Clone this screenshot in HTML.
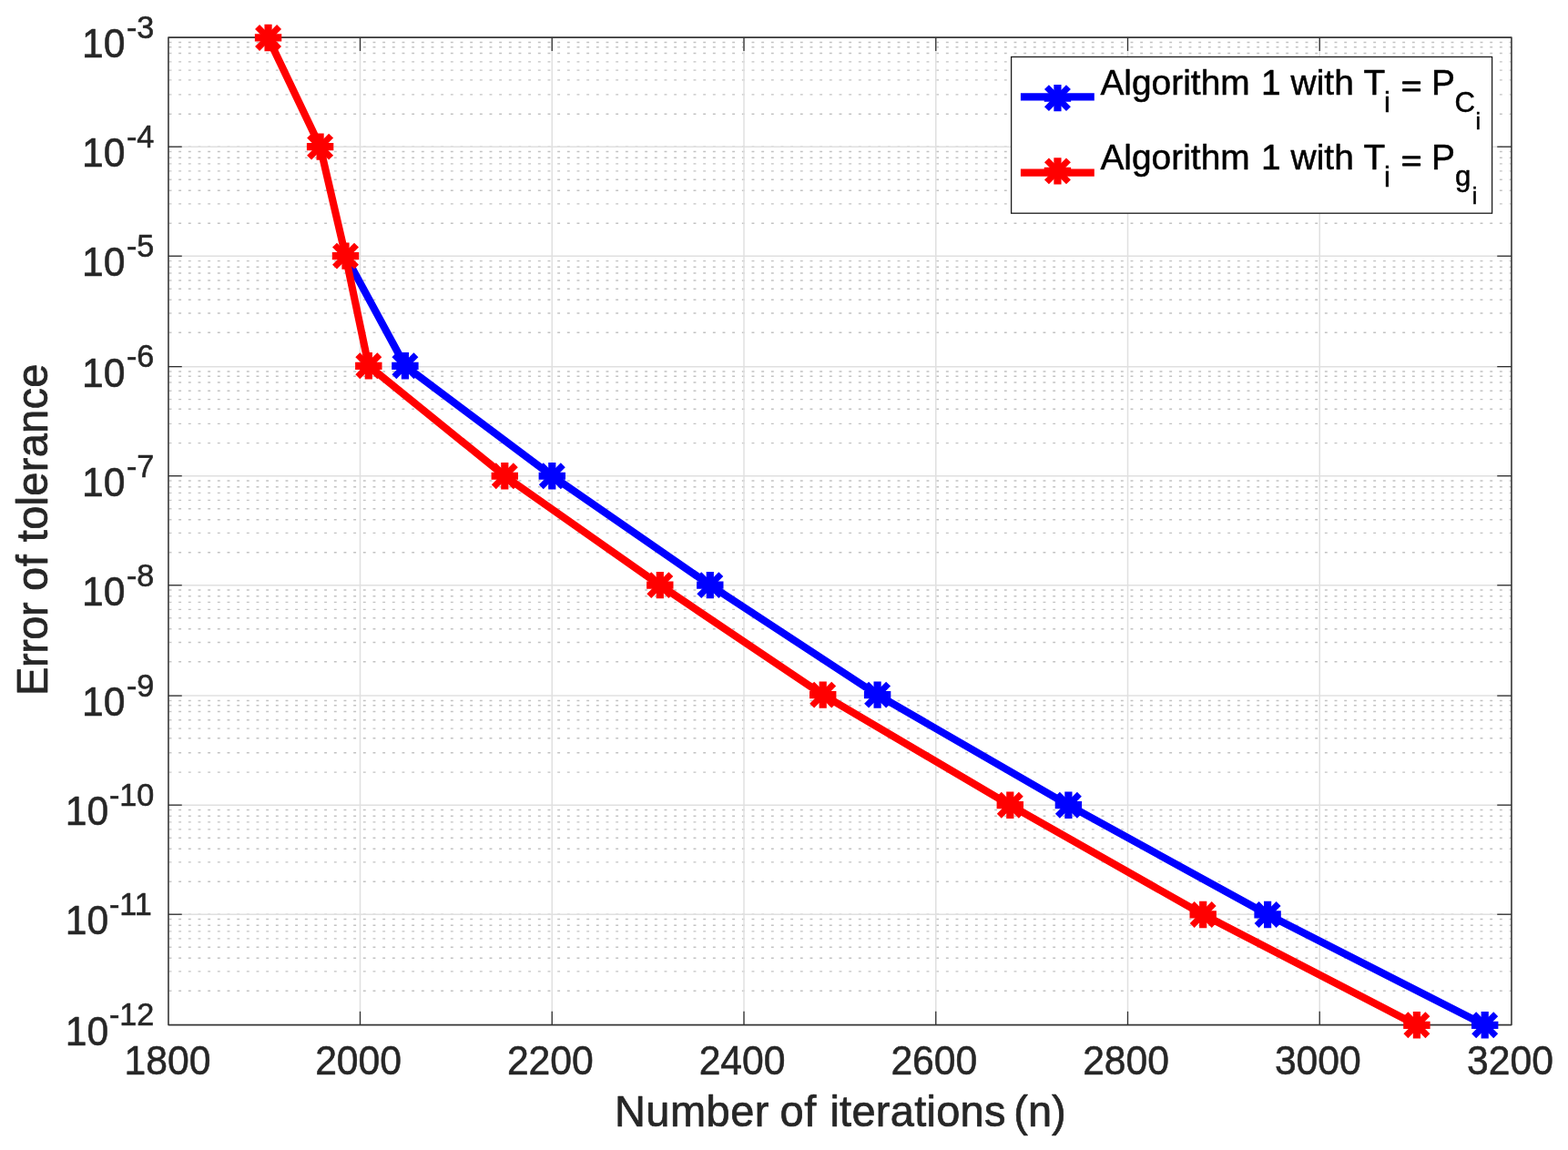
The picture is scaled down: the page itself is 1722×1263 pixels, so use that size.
<!DOCTYPE html>
<html lang="en"><head><meta charset="utf-8"><title>Error of tolerance vs Number of iterations</title>
<style>html,body{margin:0;padding:0;background:#fff;}body{width:1722px;height:1263px;overflow:hidden;}svg{display:block;}text{font-family:'Liberation Sans', Arial, Helvetica, sans-serif;}</style>
</head><body>
<svg width="1722" height="1263" viewBox="0 0 1722 1263">
<rect x="0" y="0" width="1722" height="1263" fill="#ffffff"/>
<g stroke="#c2c2c2" stroke-width="1.4" stroke-dasharray="2.9 7.767" fill="none">
<line x1="185.50" y1="125.19" x2="1659.95" y2="125.19"/>
<line x1="185.50" y1="103.84" x2="1659.95" y2="103.84"/>
<line x1="185.50" y1="87.84" x2="1659.95" y2="87.84"/>
<line x1="185.50" y1="77.17" x2="1659.95" y2="77.17"/>
<line x1="185.50" y1="67.83" x2="1659.95" y2="67.83"/>
<line x1="185.50" y1="58.49" x2="1659.95" y2="58.49"/>
<line x1="185.50" y1="51.82" x2="1659.95" y2="51.82"/>
<line x1="185.50" y1="46.49" x2="1659.95" y2="46.49"/>
<line x1="185.50" y1="245.24" x2="1659.95" y2="245.24"/>
<line x1="185.50" y1="223.89" x2="1659.95" y2="223.89"/>
<line x1="185.50" y1="209.22" x2="1659.95" y2="209.22"/>
<line x1="185.50" y1="197.22" x2="1659.95" y2="197.22"/>
<line x1="185.50" y1="187.88" x2="1659.95" y2="187.88"/>
<line x1="185.50" y1="179.88" x2="1659.95" y2="179.88"/>
<line x1="185.50" y1="173.21" x2="1659.95" y2="173.21"/>
<line x1="185.50" y1="166.54" x2="1659.95" y2="166.54"/>
<line x1="185.50" y1="365.29" x2="1659.95" y2="365.29"/>
<line x1="185.50" y1="343.95" x2="1659.95" y2="343.95"/>
<line x1="185.50" y1="329.27" x2="1659.95" y2="329.27"/>
<line x1="185.50" y1="317.27" x2="1659.95" y2="317.27"/>
<line x1="185.50" y1="307.93" x2="1659.95" y2="307.93"/>
<line x1="185.50" y1="299.93" x2="1659.95" y2="299.93"/>
<line x1="185.50" y1="293.26" x2="1659.95" y2="293.26"/>
<line x1="185.50" y1="286.59" x2="1659.95" y2="286.59"/>
<line x1="185.50" y1="486.67" x2="1659.95" y2="486.67"/>
<line x1="185.50" y1="465.33" x2="1659.95" y2="465.33"/>
<line x1="185.50" y1="449.32" x2="1659.95" y2="449.32"/>
<line x1="185.50" y1="438.65" x2="1659.95" y2="438.65"/>
<line x1="185.50" y1="429.31" x2="1659.95" y2="429.31"/>
<line x1="185.50" y1="419.98" x2="1659.95" y2="419.98"/>
<line x1="185.50" y1="413.31" x2="1659.95" y2="413.31"/>
<line x1="185.50" y1="407.97" x2="1659.95" y2="407.97"/>
<line x1="185.50" y1="606.72" x2="1659.95" y2="606.72"/>
<line x1="185.50" y1="585.38" x2="1659.95" y2="585.38"/>
<line x1="185.50" y1="570.71" x2="1659.95" y2="570.71"/>
<line x1="185.50" y1="558.70" x2="1659.95" y2="558.70"/>
<line x1="185.50" y1="549.37" x2="1659.95" y2="549.37"/>
<line x1="185.50" y1="541.36" x2="1659.95" y2="541.36"/>
<line x1="185.50" y1="534.69" x2="1659.95" y2="534.69"/>
<line x1="185.50" y1="528.02" x2="1659.95" y2="528.02"/>
<line x1="185.50" y1="726.77" x2="1659.95" y2="726.77"/>
<line x1="185.50" y1="705.43" x2="1659.95" y2="705.43"/>
<line x1="185.50" y1="690.76" x2="1659.95" y2="690.76"/>
<line x1="185.50" y1="678.75" x2="1659.95" y2="678.75"/>
<line x1="185.50" y1="669.42" x2="1659.95" y2="669.42"/>
<line x1="185.50" y1="661.41" x2="1659.95" y2="661.41"/>
<line x1="185.50" y1="654.74" x2="1659.95" y2="654.74"/>
<line x1="185.50" y1="648.07" x2="1659.95" y2="648.07"/>
<line x1="185.50" y1="848.16" x2="1659.95" y2="848.16"/>
<line x1="185.50" y1="826.82" x2="1659.95" y2="826.82"/>
<line x1="185.50" y1="810.81" x2="1659.95" y2="810.81"/>
<line x1="185.50" y1="800.14" x2="1659.95" y2="800.14"/>
<line x1="185.50" y1="790.80" x2="1659.95" y2="790.80"/>
<line x1="185.50" y1="781.46" x2="1659.95" y2="781.46"/>
<line x1="185.50" y1="774.80" x2="1659.95" y2="774.80"/>
<line x1="185.50" y1="769.46" x2="1659.95" y2="769.46"/>
<line x1="185.50" y1="968.21" x2="1659.95" y2="968.21"/>
<line x1="185.50" y1="946.87" x2="1659.95" y2="946.87"/>
<line x1="185.50" y1="932.20" x2="1659.95" y2="932.20"/>
<line x1="185.50" y1="920.19" x2="1659.95" y2="920.19"/>
<line x1="185.50" y1="910.85" x2="1659.95" y2="910.85"/>
<line x1="185.50" y1="902.85" x2="1659.95" y2="902.85"/>
<line x1="185.50" y1="896.18" x2="1659.95" y2="896.18"/>
<line x1="185.50" y1="889.51" x2="1659.95" y2="889.51"/>
<line x1="185.50" y1="1088.26" x2="1659.95" y2="1088.26"/>
<line x1="185.50" y1="1066.92" x2="1659.95" y2="1066.92"/>
<line x1="185.50" y1="1052.25" x2="1659.95" y2="1052.25"/>
<line x1="185.50" y1="1040.24" x2="1659.95" y2="1040.24"/>
<line x1="185.50" y1="1030.90" x2="1659.95" y2="1030.90"/>
<line x1="185.50" y1="1022.90" x2="1659.95" y2="1022.90"/>
<line x1="185.50" y1="1016.23" x2="1659.95" y2="1016.23"/>
<line x1="185.50" y1="1009.56" x2="1659.95" y2="1009.56"/>
<line x1="185.50" y1="161.20" x2="1659.95" y2="161.20"/>
<line x1="185.50" y1="1004.23" x2="1659.95" y2="1004.23"/>
</g>
<g stroke="#e0e0e0" stroke-width="1.5" fill="none">
<line x1="395.50" y1="41.15" x2="395.50" y2="1125.61"/>
<line x1="606.25" y1="41.15" x2="606.25" y2="1125.61"/>
<line x1="817.00" y1="41.15" x2="817.00" y2="1125.61"/>
<line x1="1027.75" y1="41.15" x2="1027.75" y2="1125.61"/>
<line x1="1238.50" y1="41.15" x2="1238.50" y2="1125.61"/>
<line x1="1449.25" y1="41.15" x2="1449.25" y2="1125.61"/>
<line x1="184.95" y1="161.20" x2="1659.95" y2="161.20"/>
<line x1="184.95" y1="281.25" x2="1659.95" y2="281.25"/>
<line x1="184.95" y1="402.64" x2="1659.95" y2="402.64"/>
<line x1="184.95" y1="522.69" x2="1659.95" y2="522.69"/>
<line x1="184.95" y1="642.74" x2="1659.95" y2="642.74"/>
<line x1="184.95" y1="764.12" x2="1659.95" y2="764.12"/>
<line x1="184.95" y1="884.17" x2="1659.95" y2="884.17"/>
<line x1="184.95" y1="1004.23" x2="1659.95" y2="1004.23"/>
</g>
<g stroke="#363636" stroke-width="1.6" fill="none" stroke-linejoin="round">
<rect x="184.95" y="41.15" width="1475.00" height="1084.46"/>
</g>
<g stroke="#303030" stroke-width="1.3" fill="none">
<line x1="395.50" y1="1125.61" x2="395.50" y2="1110.81"/>
<line x1="395.50" y1="41.15" x2="395.50" y2="55.95"/>
<line x1="606.25" y1="1125.61" x2="606.25" y2="1110.81"/>
<line x1="606.25" y1="41.15" x2="606.25" y2="55.95"/>
<line x1="817.00" y1="1125.61" x2="817.00" y2="1110.81"/>
<line x1="817.00" y1="41.15" x2="817.00" y2="55.95"/>
<line x1="1027.75" y1="1125.61" x2="1027.75" y2="1110.81"/>
<line x1="1027.75" y1="41.15" x2="1027.75" y2="55.95"/>
<line x1="1238.50" y1="1125.61" x2="1238.50" y2="1110.81"/>
<line x1="1238.50" y1="41.15" x2="1238.50" y2="55.95"/>
<line x1="1449.25" y1="1125.61" x2="1449.25" y2="1110.81"/>
<line x1="1449.25" y1="41.15" x2="1449.25" y2="55.95"/>
<line x1="184.95" y1="161.20" x2="199.75" y2="161.20"/>
<line x1="1659.95" y1="161.20" x2="1644.25" y2="161.20"/>
<line x1="184.95" y1="281.25" x2="199.75" y2="281.25"/>
<line x1="1659.95" y1="281.25" x2="1644.25" y2="281.25"/>
<line x1="184.95" y1="402.64" x2="199.75" y2="402.64"/>
<line x1="1659.95" y1="402.64" x2="1644.25" y2="402.64"/>
<line x1="184.95" y1="522.69" x2="199.75" y2="522.69"/>
<line x1="1659.95" y1="522.69" x2="1644.25" y2="522.69"/>
<line x1="184.95" y1="642.74" x2="199.75" y2="642.74"/>
<line x1="1659.95" y1="642.74" x2="1644.25" y2="642.74"/>
<line x1="184.95" y1="764.12" x2="199.75" y2="764.12"/>
<line x1="1659.95" y1="764.12" x2="1644.25" y2="764.12"/>
<line x1="184.95" y1="884.17" x2="199.75" y2="884.17"/>
<line x1="1659.95" y1="884.17" x2="1644.25" y2="884.17"/>
<line x1="184.95" y1="1004.23" x2="199.75" y2="1004.23"/>
<line x1="1659.95" y1="1004.23" x2="1644.25" y2="1004.23"/>
</g>
<g stroke="#0000ff" stroke-width="8.20" fill="none" stroke-linejoin="miter" stroke-linecap="butt">
<polyline points="379.50,281.10 444.90,401.79 606.30,522.74 779.80,642.64 963.60,763.12 1173.40,884.22 1392.10,1004.43 1630.70,1125.81"/>
<path d="M430.20 401.79H459.60M444.90 387.09V416.49M591.60 522.74H621.00M606.30 508.04V537.44M765.10 642.64H794.50M779.80 627.94V657.34M948.90 763.12H978.30M963.60 748.42V777.82M1158.70 884.22H1188.10M1173.40 869.52V898.92M1377.40 1004.43H1406.80M1392.10 989.73V1019.13M1616.00 1125.81H1645.40M1630.70 1111.11V1140.51"/>
<path stroke-width="7.00" d="M432.90 389.79L456.90 413.79M432.90 413.79L456.90 389.79M594.30 510.74L618.30 534.74M594.30 534.74L618.30 510.74M767.80 630.64L791.80 654.64M767.80 654.64L791.80 630.64M951.60 751.12L975.60 775.12M951.60 775.12L975.60 751.12M1161.40 872.22L1185.40 896.22M1161.40 896.22L1185.40 872.22M1380.10 992.43L1404.10 1016.43M1380.10 1016.43L1404.10 992.43M1618.70 1113.81L1642.70 1137.81M1618.70 1137.81L1642.70 1113.81"/>
</g>
<g stroke="#ff0000" stroke-width="8.20" fill="none" stroke-linejoin="miter" stroke-linecap="butt">
<polyline points="294.55,41.45 351.60,161.10 379.50,281.10 404.80,401.79 554.30,522.74 724.80,642.64 903.70,763.12 1109.30,884.22 1321.20,1004.43 1555.90,1125.81"/>
<path d="M279.85 41.45H309.25M294.55 26.75V56.15M336.90 161.10H366.30M351.60 146.40V175.80M364.80 281.10H394.20M379.50 266.40V295.80M390.10 401.79H419.50M404.80 387.09V416.49M539.60 522.74H569.00M554.30 508.04V537.44M710.10 642.64H739.50M724.80 627.94V657.34M889.00 763.12H918.40M903.70 748.42V777.82M1094.60 884.22H1124.00M1109.30 869.52V898.92M1306.50 1004.43H1335.90M1321.20 989.73V1019.13M1541.20 1125.81H1570.60M1555.90 1111.11V1140.51"/>
<path stroke-width="7.00" d="M282.55 29.45L306.55 53.45M282.55 53.45L306.55 29.45M339.60 149.10L363.60 173.10M339.60 173.10L363.60 149.10M367.50 269.10L391.50 293.10M367.50 293.10L391.50 269.10M392.80 389.79L416.80 413.79M392.80 413.79L416.80 389.79M542.30 510.74L566.30 534.74M542.30 534.74L566.30 510.74M712.80 630.64L736.80 654.64M712.80 654.64L736.80 630.64M891.70 751.12L915.70 775.12M891.70 775.12L915.70 751.12M1097.30 872.22L1121.30 896.22M1097.30 896.22L1121.30 872.22M1309.20 992.43L1333.20 1016.43M1309.20 1016.43L1333.20 992.43M1543.90 1113.81L1567.90 1137.81M1543.90 1137.81L1567.90 1113.81"/>
</g>
<text transform="translate(184.05 1179.90) scale(1 1.030)" font-size="42.70" text-anchor="middle" fill="#262626" stroke="#262626" stroke-width="0.55" stroke-linejoin="round">1800</text>
<text transform="translate(393.60 1179.90) scale(1 1.030)" font-size="42.70" text-anchor="middle" fill="#262626" stroke="#262626" stroke-width="0.55" stroke-linejoin="round">2000</text>
<text transform="translate(604.35 1179.90) scale(1 1.030)" font-size="42.70" text-anchor="middle" fill="#262626" stroke="#262626" stroke-width="0.55" stroke-linejoin="round">2200</text>
<text transform="translate(815.10 1179.90) scale(1 1.030)" font-size="42.70" text-anchor="middle" fill="#262626" stroke="#262626" stroke-width="0.55" stroke-linejoin="round">2400</text>
<text transform="translate(1025.85 1179.90) scale(1 1.030)" font-size="42.70" text-anchor="middle" fill="#262626" stroke="#262626" stroke-width="0.55" stroke-linejoin="round">2600</text>
<text transform="translate(1236.60 1179.90) scale(1 1.030)" font-size="42.70" text-anchor="middle" fill="#262626" stroke="#262626" stroke-width="0.55" stroke-linejoin="round">2800</text>
<text transform="translate(1447.35 1179.90) scale(1 1.030)" font-size="42.70" text-anchor="middle" fill="#262626" stroke="#262626" stroke-width="0.55" stroke-linejoin="round">3000</text>
<text transform="translate(1658.55 1179.90) scale(1 1.030)" font-size="42.70" text-anchor="middle" fill="#262626" stroke="#262626" stroke-width="0.55" stroke-linejoin="round">3200</text>
<text transform="translate(137.60 63.30) scale(1 1.030)" font-size="42.70" text-anchor="end" fill="#262626" stroke="#262626" stroke-width="0.55" stroke-linejoin="round">10</text>
<text transform="translate(138.90 42.00) scale(1 1.030)" font-size="34.20" text-anchor="start" fill="#262626" stroke="#262626" stroke-width="0.55" stroke-linejoin="round">-3</text>
<text transform="translate(137.60 183.35) scale(1 1.030)" font-size="42.70" text-anchor="end" fill="#262626" stroke="#262626" stroke-width="0.55" stroke-linejoin="round">10</text>
<text transform="translate(138.90 162.05) scale(1 1.030)" font-size="34.20" text-anchor="start" fill="#262626" stroke="#262626" stroke-width="0.55" stroke-linejoin="round">-4</text>
<text transform="translate(137.60 303.40) scale(1 1.030)" font-size="42.70" text-anchor="end" fill="#262626" stroke="#262626" stroke-width="0.55" stroke-linejoin="round">10</text>
<text transform="translate(138.90 282.10) scale(1 1.030)" font-size="34.20" text-anchor="start" fill="#262626" stroke="#262626" stroke-width="0.55" stroke-linejoin="round">-5</text>
<text transform="translate(137.60 424.79) scale(1 1.030)" font-size="42.70" text-anchor="end" fill="#262626" stroke="#262626" stroke-width="0.55" stroke-linejoin="round">10</text>
<text transform="translate(138.90 403.49) scale(1 1.030)" font-size="34.20" text-anchor="start" fill="#262626" stroke="#262626" stroke-width="0.55" stroke-linejoin="round">-6</text>
<text transform="translate(137.60 544.84) scale(1 1.030)" font-size="42.70" text-anchor="end" fill="#262626" stroke="#262626" stroke-width="0.55" stroke-linejoin="round">10</text>
<text transform="translate(138.90 523.54) scale(1 1.030)" font-size="34.20" text-anchor="start" fill="#262626" stroke="#262626" stroke-width="0.55" stroke-linejoin="round">-7</text>
<text transform="translate(137.60 664.89) scale(1 1.030)" font-size="42.70" text-anchor="end" fill="#262626" stroke="#262626" stroke-width="0.55" stroke-linejoin="round">10</text>
<text transform="translate(138.90 643.59) scale(1 1.030)" font-size="34.20" text-anchor="start" fill="#262626" stroke="#262626" stroke-width="0.55" stroke-linejoin="round">-8</text>
<text transform="translate(137.60 786.27) scale(1 1.030)" font-size="42.70" text-anchor="end" fill="#262626" stroke="#262626" stroke-width="0.55" stroke-linejoin="round">10</text>
<text transform="translate(138.90 764.97) scale(1 1.030)" font-size="34.20" text-anchor="start" fill="#262626" stroke="#262626" stroke-width="0.55" stroke-linejoin="round">-9</text>
<text transform="translate(119.30 906.32) scale(1 1.030)" font-size="42.70" text-anchor="end" fill="#262626" stroke="#262626" stroke-width="0.55" stroke-linejoin="round">10</text>
<text transform="translate(119.90 885.02) scale(1 1.030)" font-size="34.20" text-anchor="start" fill="#262626" stroke="#262626" stroke-width="0.55" stroke-linejoin="round">-10</text>
<text transform="translate(119.30 1026.38) scale(1 1.030)" font-size="42.70" text-anchor="end" fill="#262626" stroke="#262626" stroke-width="0.55" stroke-linejoin="round">10</text>
<text transform="translate(119.90 1005.08) scale(1 1.030)" font-size="34.20" text-anchor="start" fill="#262626" stroke="#262626" stroke-width="0.55" stroke-linejoin="round">-11</text>
<text transform="translate(119.30 1147.76) scale(1 1.030)" font-size="42.70" text-anchor="end" fill="#262626" stroke="#262626" stroke-width="0.55" stroke-linejoin="round">10</text>
<text transform="translate(119.90 1126.46) scale(1 1.030)" font-size="34.20" text-anchor="start" fill="#262626" stroke="#262626" stroke-width="0.55" stroke-linejoin="round">-12</text>
<text transform="translate(674.90 1236.60) scale(1 1.025)" font-size="47.00" text-anchor="start" fill="#262626" stroke="#262626" stroke-width="0.70" stroke-linejoin="round" letter-spacing="0.50">Number</text>
<text transform="translate(856.60 1236.60) scale(1 1.025)" font-size="47.00" text-anchor="start" fill="#262626" stroke="#262626" stroke-width="0.70" stroke-linejoin="round" letter-spacing="0.60">of</text>
<text transform="translate(911.40 1236.60) scale(1 1.025)" font-size="47.00" text-anchor="start" fill="#262626" stroke="#262626" stroke-width="0.70" stroke-linejoin="round" letter-spacing="0.27">iterations</text>
<text transform="translate(1113.30 1236.60) scale(1 1.025)" font-size="47.00" text-anchor="start" fill="#262626" stroke="#262626" stroke-width="0.70" stroke-linejoin="round" letter-spacing="0.00">(n)</text>
<text transform="translate(51.60 764.00) rotate(-90) scale(1 1.025)" font-size="47.00" text-anchor="start" fill="#262626" stroke="#262626" stroke-width="0.70" stroke-linejoin="round" letter-spacing="-0.42">Error</text>
<text transform="translate(51.60 649.00) rotate(-90) scale(1 1.025)" font-size="47.00" text-anchor="start" fill="#262626" stroke="#262626" stroke-width="0.70" stroke-linejoin="round" letter-spacing="0.60">of</text>
<text transform="translate(51.60 595.20) rotate(-90) scale(1 1.025)" font-size="47.00" text-anchor="start" fill="#262626" stroke="#262626" stroke-width="0.70" stroke-linejoin="round" letter-spacing="0.29">tolerance</text>
<rect x="1110.60" y="62.50" width="528.00" height="171.70" fill="#ffffff" stroke="#1c1c1c" stroke-width="1.3"/>
<g stroke="#0000ff" stroke-width="8.20" fill="none">
<line x1="1120.9" y1="106.30" x2="1201.8" y2="106.30"/>
<path d="M1146.75 107.60H1176.15M1161.45 92.90V122.30"/>
<path stroke-width="7.00" d="M1149.45 95.60L1173.45 119.60M1149.45 119.60L1173.45 95.60"/>
</g>
<text transform="translate(1208.40 104.30) scale(1 1.000)" font-size="38.90" text-anchor="start" fill="#000000" stroke="#000000" stroke-width="0.50" stroke-linejoin="round">Algorithm</text>
<text transform="translate(1385.00 104.30) scale(1 1.000)" font-size="38.90" text-anchor="start" fill="#000000" stroke="#000000" stroke-width="0.50" stroke-linejoin="round">1</text>
<text transform="translate(1417.60 104.30) scale(1 1.000)" font-size="38.90" text-anchor="start" fill="#000000" stroke="#000000" stroke-width="0.50" stroke-linejoin="round">with</text>
<text transform="translate(1497.50 104.30) scale(1 1.000)" font-size="38.90" text-anchor="start" fill="#000000" stroke="#000000" stroke-width="0.50" stroke-linejoin="round">T</text>
<text transform="translate(1520.00 122.70) scale(1 1.000)" font-size="31.12" text-anchor="start" fill="#000000" stroke="#000000" stroke-width="0.50" stroke-linejoin="round">i</text>
<text transform="translate(1538.70 105.40) scale(1 0.800)" font-size="38.90" text-anchor="start" fill="#000000" stroke="#000000" stroke-width="1.10" stroke-linejoin="round">=</text>
<text transform="translate(1572.00 104.30) scale(1 1.000)" font-size="38.90" text-anchor="start" fill="#000000" stroke="#000000" stroke-width="0.50" stroke-linejoin="round">P</text>
<text transform="translate(1597.50 122.70) scale(1 1.000)" font-size="31.12" text-anchor="start" fill="#000000" stroke="#000000" stroke-width="0.50" stroke-linejoin="round">C</text>
<text transform="translate(1620.50 142.20) scale(1 1.000)" font-size="24.90" text-anchor="start" fill="#000000" stroke="#000000" stroke-width="0.50" stroke-linejoin="round">i</text>
<g stroke="#ff0000" stroke-width="8.20" fill="none">
<line x1="1120.9" y1="189.60" x2="1201.8" y2="189.60"/>
<path d="M1146.75 187.85H1176.15M1161.45 173.15V202.55"/>
<path stroke-width="7.00" d="M1149.45 175.85L1173.45 199.85M1149.45 199.85L1173.45 175.85"/>
</g>
<text transform="translate(1208.40 185.60) scale(1 1.000)" font-size="38.90" text-anchor="start" fill="#000000" stroke="#000000" stroke-width="0.50" stroke-linejoin="round">Algorithm</text>
<text transform="translate(1385.00 185.60) scale(1 1.000)" font-size="38.90" text-anchor="start" fill="#000000" stroke="#000000" stroke-width="0.50" stroke-linejoin="round">1</text>
<text transform="translate(1417.60 185.60) scale(1 1.000)" font-size="38.90" text-anchor="start" fill="#000000" stroke="#000000" stroke-width="0.50" stroke-linejoin="round">with</text>
<text transform="translate(1497.50 185.60) scale(1 1.000)" font-size="38.90" text-anchor="start" fill="#000000" stroke="#000000" stroke-width="0.50" stroke-linejoin="round">T</text>
<text transform="translate(1520.00 204.70) scale(1 1.000)" font-size="31.12" text-anchor="start" fill="#000000" stroke="#000000" stroke-width="0.50" stroke-linejoin="round">i</text>
<text transform="translate(1538.70 186.70) scale(1 0.800)" font-size="38.90" text-anchor="start" fill="#000000" stroke="#000000" stroke-width="1.10" stroke-linejoin="round">=</text>
<text transform="translate(1572.00 185.60) scale(1 1.000)" font-size="38.90" text-anchor="start" fill="#000000" stroke="#000000" stroke-width="0.50" stroke-linejoin="round">P</text>
<text transform="translate(1598.00 204.00) scale(1 1.000)" font-size="31.12" text-anchor="start" fill="#000000" stroke="#000000" stroke-width="0.50" stroke-linejoin="round">g</text>
<text transform="translate(1616.80 223.50) scale(1 1.000)" font-size="24.90" text-anchor="start" fill="#000000" stroke="#000000" stroke-width="0.50" stroke-linejoin="round">i</text>
</svg>
</body></html>
